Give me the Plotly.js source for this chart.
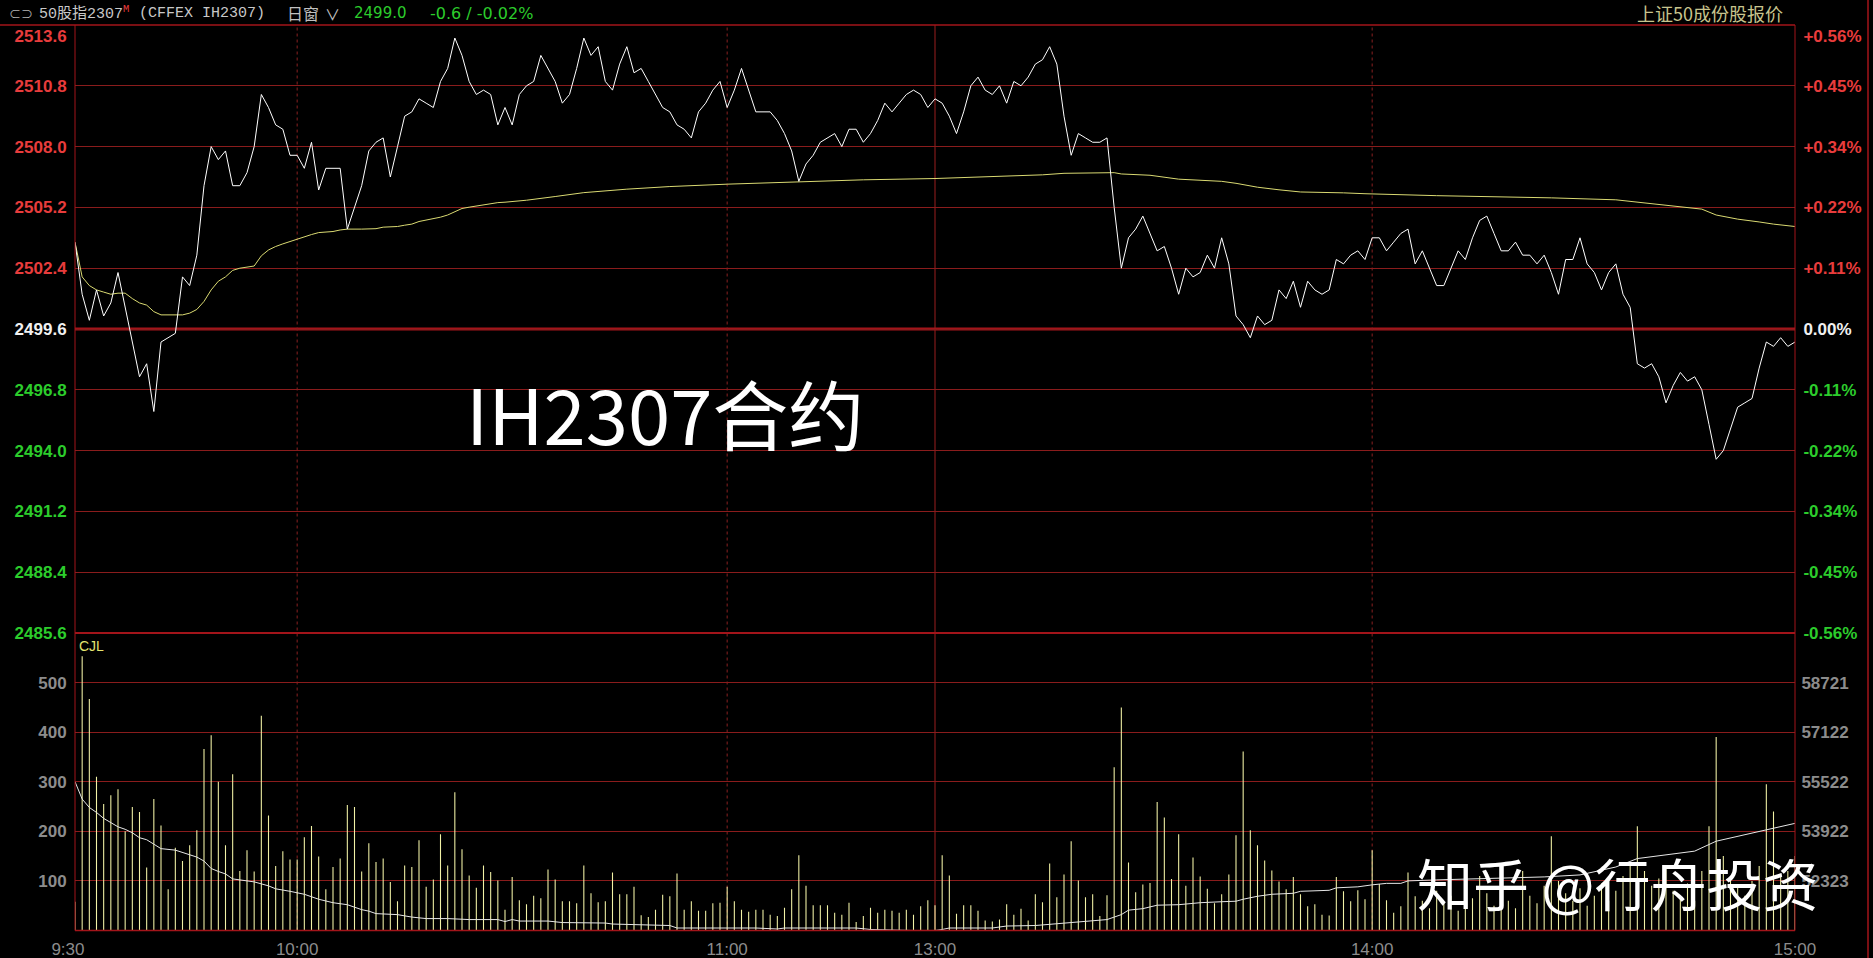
<!DOCTYPE html>
<html>
<head>
<meta charset="utf-8">
<script src="https://cdn.plot.ly/plotly-3.0.1.min.js"></script>
<style>
  html, body { margin: 0; padding: 0; background: #000; }
  #chart { width: 1873px; height: 958px; }
</style>
</head>
<body>
<div id="chart"></div>
<script>
// ---------------- DATA ----------------
const PRE_CLOSE = 2499.6;

// minute-by-minute last price (index 0 = 9:30 ... 240 = 15:00)
const PRICE = [
  2503.6, 2501.2, 2500.0, 2501.4, 2500.2, 2500.8, 2502.2, 2500.6, 2499.0, 2497.4,
  2498.0, 2495.8, 2499.0, 2499.2, 2499.4, 2502.0, 2501.6, 2503.0, 2506.2, 2508.0,
  2507.4, 2507.8, 2506.2, 2506.2, 2506.8, 2508.0, 2510.4, 2509.8, 2509.0, 2508.8,
  2507.6, 2507.6, 2507.0, 2508.2, 2506.0, 2507.0, 2507.0, 2507.0, 2504.2, 2505.2,
  2506.2, 2507.8, 2508.2, 2508.4, 2506.6, 2508.0, 2509.4, 2509.6, 2510.2, 2510.0,
  2509.8, 2511.0, 2511.6, 2513.0, 2512.2, 2511.0, 2510.4, 2510.6, 2510.4, 2509.0,
  2509.8, 2509.0, 2510.4, 2510.8, 2511.0, 2512.2, 2511.6, 2511.0, 2510.0, 2510.4,
  2511.6, 2513.0, 2512.2, 2512.6, 2511.0, 2510.6, 2511.8, 2512.6, 2511.4, 2511.6,
  2511.0, 2510.4, 2509.8, 2509.6, 2509.0, 2508.8, 2508.4, 2509.6, 2510.0, 2510.6,
  2511.0, 2509.8, 2510.6, 2511.6, 2510.6, 2509.6, 2509.6, 2509.6, 2509.2, 2508.6,
  2507.8, 2506.4, 2507.2, 2507.6, 2508.2, 2508.4, 2508.6, 2508.0, 2508.8, 2508.8,
  2508.2, 2508.6, 2509.2, 2510.0, 2509.6, 2510.0, 2510.4, 2510.6, 2510.4, 2509.8,
  2510.2, 2510.0, 2509.4, 2508.6, 2509.6, 2510.8, 2511.2, 2510.6, 2510.4, 2510.8,
  2510.0, 2511.0, 2510.8, 2511.2, 2511.8, 2512.0, 2512.6, 2511.8, 2509.4, 2507.6,
  2508.6, 2508.4, 2508.2, 2508.2, 2508.4, 2505.2, 2502.4, 2503.8, 2504.2, 2504.8,
  2504.0, 2503.2, 2503.4, 2502.4, 2501.2, 2502.4, 2502.0, 2502.2, 2503.0, 2502.4,
  2503.8, 2502.6, 2500.2, 2499.8, 2499.2, 2500.2, 2499.8, 2500.0, 2501.4, 2501.0,
  2501.8, 2500.6, 2501.8, 2501.4, 2501.2, 2501.4, 2502.8, 2502.6, 2503.0, 2503.2,
  2502.8, 2503.8, 2503.8, 2503.2, 2503.6, 2504.0, 2504.2, 2502.6, 2503.2, 2502.4,
  2501.6, 2501.6, 2502.4, 2503.2, 2502.8, 2503.8, 2504.6, 2504.8, 2504.0, 2503.2,
  2503.2, 2503.6, 2503.0, 2503.0, 2502.6, 2503.0, 2502.2, 2501.2, 2502.8, 2502.8,
  2503.8, 2502.6, 2502.2, 2501.4, 2502.2, 2502.6, 2501.2, 2500.6, 2498.0, 2497.8,
  2498.0, 2497.4, 2496.2, 2497.0, 2497.6, 2497.2, 2497.4, 2496.8, 2495.2, 2493.6,
  2494.0, 2495.0, 2496.0, 2496.2, 2496.4, 2497.8, 2499.0, 2498.8, 2499.2, 2498.8,
  2499.0
];

// per-minute volume (CJL)
const VOLUME = [
  58, 553, 467, 310, 255, 273, 285, 200, 249, 239,
  127, 265, 212, 83, 167, 140, 172, 202, 366, 394,
  300, 172, 315, 120, 162, 119, 433, 232, 130, 160,
  143, 143, 188, 211, 149, 83, 128, 145, 253, 249,
  119, 176, 138, 145, 98, 59, 131, 128, 182, 88,
  103, 194, 131, 279, 164, 111, 86, 131, 118, 101,
  42, 108, 61, 53, 70, 65, 123, 103, 59, 59,
  55, 131, 75, 57, 59, 117, 73, 73, 88, 31,
  27, 42, 72, 69, 115, 42, 59, 40, 40, 55,
  56, 88, 59, 42, 38, 42, 42, 32, 29, 46,
  83, 152, 90, 51, 51, 51, 36, 32, 56, 17,
  29, 46, 36, 42, 40, 36, 42, 32, 49, 61,
  51, 152, 111, 34, 51, 51, 40, 20, 18, 22,
  53, 32, 44, 20, 73, 57, 135, 67, 113, 180,
  101, 67, 73, 29, 71, 329, 450, 137, 77, 93,
  96, 259, 228, 104, 194, 90, 147, 109, 84, 55,
  73, 113, 192, 361, 202, 172, 141, 121, 99, 83,
  108, 73, 49, 53, 32, 30, 108, 79, 59, 81,
  63, 162, 94, 61, 36, 49, 117, 69, 60, 45,
  80, 55, 70, 40, 95, 65, 110, 75, 50, 85,
  60, 45, 120, 70, 55, 90, 190, 100, 75, 60,
  85, 50, 70, 95, 60, 80, 110, 130, 210, 120,
  90, 105, 130, 80, 70, 95, 60, 120, 210, 390,
  150, 110, 90, 70, 100, 130, 295, 240, 110, 120,
  150
];

// average price line (minute index, price)
const AVG_IDX = [0,1,2,3,4,5,6,7,8,9,10,11,12,15,16,17,18,19,20,21,22,23,25,26,27,28,29,30,31,32,33,34,36,37,38,40,42,43,45,46,47,48,49,50,51,52,53,54,55,56,57,58,59,60,63,67,71,77,83,91,101,110,120,124,130,135,138,143,145,146,150,154,160,162,165,168,171,177,180,190,198,206,215,218,222,227,229,232,235,237,240];
const AVG_VAL = [2503.6,2502.0,2501.6,2501.4,2501.3,2501.2,2501.25,2501.25,2501.0,2500.8,2500.7,2500.4,2500.25,2500.25,2500.33,2500.5,2500.87,2501.4,2501.8,2502.0,2502.3,2502.4,2502.5,2502.97,2503.24,2503.4,2503.52,2503.63,2503.75,2503.86,2503.95,2504.04,2504.09,2504.16,2504.2,2504.2,2504.22,2504.29,2504.32,2504.38,2504.43,2504.55,2504.62,2504.67,2504.75,2504.85,2504.99,2505.15,2505.21,2505.27,2505.31,2505.39,2505.42,2505.44,2505.53,2505.7,2505.88,2506.04,2506.16,2506.27,2506.39,2506.47,2506.53,2506.57,2506.62,2506.7,2506.77,2506.8,2506.8,2506.74,2506.68,2506.5,2506.4,2506.31,2506.13,2506.01,2505.91,2505.87,2505.83,2505.74,2505.7,2505.64,2505.55,2505.45,2505.3,2505.12,2504.85,2504.66,2504.53,2504.43,2504.32];

// open interest line in volume pane (minute index, contracts)
const OI_IDX = [0,1,2,3,4,5,6,7,8,9,10,11,12,14,15,17,18,19,20,21,22,23,25,27,28,30,32,34,36,38,40,41,42,45,47,49,51,52,55,59,60,61,62,65,66,68,71,74,75,78,80,83,84,86,95,98,99,109,111,117,120,121,122,128,130,134,138,142,144,146,147,149,151,154,157,160,162,163,165,167,170,171,175,176,179,181,183,185,186,190,195,200,205,210,215,218,222,226,229,232,235,238,240];
const OI_VAL = [55524,54964,54692,54532,54340,54212,54068,53988,53876,53716,53652,53508,53364,53316,53236,53092,52964,52724,52628,52548,52388,52356,52292,52164,52068,51988,51892,51732,51620,51556,51396,51348,51268,51236,51156,51108,51124,51108,51076,51076,51012,51076,51028,51012,51028,50980,50964,50964,50932,50916,50884,50884,50804,50804,50804,50772,50804,50804,50756,50724,50724,50756,50804,50804,50868,50884,50964,51028,51076,51236,51380,51428,51540,51556,51620,51652,51668,51732,51828,51892,51924,51988,52020,52100,52132,52196,52244,52244,52324,52356,52388,52420,52452,52516,52772,53044,53156,53284,53604,53764,53924,54084,54180];

// axis ticks / labels
const TIME_TICKS  = [0, 31, 91, 120, 181, 240];
const TIME_LABELS = ['9:30&#160;&#160;&#160;', '10:00', '11:00', '13:00', '14:00', '15:00'];
const LUNCH_BREAK = 120;

const PRICE_TICKS  = [2485.6, 2488.4, 2491.2, 2494.0, 2496.8, 2499.6, 2502.4, 2505.2, 2508.0, 2510.8, 2513.6];
const PRICE_LABELS = ['2485.6','2488.4','2491.2','2494.0','2496.8','2499.6','2502.4','2505.2','2508.0','2510.8','2513.6'];
const PCT_LABELS   = ['-0.56%','-0.45%','-0.34%','-0.22%','-0.11%','0.00%','+0.11%','+0.22%','+0.34%','+0.45%','+0.56%'];

const VOL_RANGE   = [0, 600];
const VOL_TICKS   = [100, 200, 300, 400, 500];
const VOL_LABELS  = ['100', '200', '300', '400', '500'];
const OI_RANGE    = [50723.5, 60320.5];
const OI_TICKS    = [52323, 53922, 55522, 57122, 58721];
const OI_LABELS   = ['52323', '53922', '55522', '57122', '58721'];

// ---------------- STYLE / LAYOUT ----------------
const W = 1873, H = 958;
const px = v => v / W;
const py = v => 1 - v / H;
const X0 = 75, X1 = 1795, YT = 25, YM = 633, YB = 930.5;

const RED = '#e83c3c', GREEN = '#2ccc2c', WHITE = '#f0f0f0', GRAY = '#8c8c8c';
const GRID = '#8a1c1c', THICK = '#a3141a';
const LBL_FONT = 'Liberation Sans, Arial, sans-serif';
const CJK_FONT = 'Noto Sans CJK SC, Noto Sans, sans-serif';
const HDR_FONT = 'Liberation Mono, Noto Sans CJK SC, monospace';
const QUOTE_FONT = 'DejaVu Sans, Verdana, sans-serif';

const MINUTE = PRICE.map((_, i) => i);

function colorOf(v) {
  if (v > PRE_CLOSE + 1e-9) return RED;
  if (v < PRE_CLOSE - 1e-9) return GREEN;
  return WHITE;
}
const topTick = Math.max(...PRICE_TICKS);
function priceText(labels) {
  return PRICE_TICKS.map((v, i) => {
    const t = '<span style="color:' + colorOf(v) + '">' + labels[i] + '</span>';
    return v === topTick ? '&#160;<br>' + t : t;
  });
}

const traces = [
  {
    type: 'bar', x: MINUTE, y: VOLUME, xaxis: 'x', yaxis: 'y3',
    width: 0.15, marker: { color: '#f2f2a6', line: { width: 0 } },
    hoverinfo: 'skip'
  },
  {
    type: 'scatter', mode: 'lines', x: OI_IDX, y: OI_VAL, xaxis: 'x', yaxis: 'y4',
    line: { color: '#e6e6e6', width: 1 }, hoverinfo: 'skip'
  },
  {
    type: 'scatter', mode: 'lines', x: AVG_IDX, y: AVG_VAL, xaxis: 'x', yaxis: 'y',
    line: { color: '#dada72', width: 1 }, hoverinfo: 'skip'
  },
  {
    type: 'scatter', mode: 'lines', x: MINUTE, y: PRICE, xaxis: 'x', yaxis: 'y2',
    line: { color: '#ffffff', width: 1 }, hoverinfo: 'skip'
  }
];

const tickFontBold = { family: LBL_FONT, size: 17, weight: 'bold', color: GRAY };

const shapes = [];
// pre-close reference line
shapes.push({ type: 'line', xref: 'x domain', x0: 0, x1: 1, yref: 'y', y0: PRE_CLOSE, y1: PRE_CLOSE,
  line: { color: THICK, width: 3 }, layer: 'below' });
// session time lines
TIME_TICKS.slice(1, -1).forEach(t => {
  shapes.push({ type: 'line', xref: 'x', x0: t, x1: t, yref: 'paper', y0: py(YB), y1: py(YT),
    line: { color: t === LUNCH_BREAK ? '#9a1e1e' : '#8a2020', width: 1, dash: t === LUNCH_BREAK ? 'solid' : '3px,3px' },
    layer: 'below' });
});
// frame
shapes.push({ type: 'line', xref: 'paper', yref: 'paper', x0: px(X0), x1: px(X1), y0: py(YM), y1: py(YM), line: { color: THICK, width: 2 } });
shapes.push({ type: 'line', xref: 'paper', yref: 'paper', x0: 0, x1: px(X1), y0: py(YT), y1: py(YT), line: { color: THICK, width: 1.5 } });
shapes.push({ type: 'line', xref: 'paper', yref: 'paper', x0: px(X0), x1: px(X0), y0: py(YB), y1: py(YT), line: { color: THICK, width: 1 } });
shapes.push({ type: 'line', xref: 'paper', yref: 'paper', x0: px(X1), x1: px(X1), y0: py(YB), y1: py(YT), line: { color: THICK, width: 1 } });
shapes.push({ type: 'line', xref: 'paper', yref: 'paper', x0: px(X0), x1: px(X1), y0: py(YB), y1: py(YB), line: { color: THICK, width: 1.5 } });
shapes.push({ type: 'line', xref: 'paper', yref: 'paper', x0: px(1868), x1: px(1868), y0: 0, y1: 1, line: { color: THICK, width: 1.5 } });

const last = PRICE[PRICE.length - 1];
const chg = last - PRE_CLOSE;
const chgPct = chg / PRE_CLOSE * 100;
const chgCol = chg > 0 ? RED : (chg < 0 ? GREEN : WHITE);

function ann(text, x, y, size, color, family, extra) {
  return Object.assign({ text: text, xref: 'paper', yref: 'paper', x: px(x), y: py(y),
    xanchor: 'left', yanchor: 'middle', showarrow: false,
    font: { family: family || CJK_FONT, size: size, color: color } }, extra || {});
}

const annotations = [
  ann('⊂⊃', 7, 13, 12, '#b4b4b4'),
  ann('50股指2307<sup><span style="color:' + RED + '">M</span></sup>', 37, 13, 15, '#c8c8c8', HDR_FONT),
  ann('(CFFEX IH2307)', 137, 13, 15, '#c8c8c8', HDR_FONT),
  ann('日窗', 285, 13, 16, '#c0c0c0'),
  ann('∨', 323, 14, 15, '#c0c0c0'),
  ann(last.toFixed(1), 352, 13, 15, chgCol, QUOTE_FONT),
  ann(chg.toFixed(1) + ' / ' + chgPct.toFixed(2) + '%', 428, 13, 16, chgCol, QUOTE_FONT),
  ann('上证50成份股报价', 1785, 13, 18, '#c8c48e', CJK_FONT, { xanchor: 'right' }),
  ann('CJL', 77, 646, 14, '#e4e470', LBL_FONT),
  ann('IH2307合约', 665, 412, 76, '#ffffff', CJK_FONT, { xanchor: 'center' }),
  ann('知乎 @行舟投资', 1618, 881, 56, '#ffffff', CJK_FONT, { xanchor: 'center' })
];

const layout = {
  width: W, height: H,
  margin: { l: 0, r: 0, t: 0, b: 0, pad: 0 },
  paper_bgcolor: '#000', plot_bgcolor: '#000',
  showlegend: false, hovermode: false, dragmode: false,
  xaxis: {
    domain: [px(X0), px(X1)], range: [0, 240], anchor: 'y3',
    tickmode: 'array', tickvals: TIME_TICKS, ticktext: TIME_LABELS,
    showgrid: false, zeroline: false, showline: false,
    ticks: 'outside', ticklen: 3, tickcolor: 'rgba(0,0,0,0)',
    tickfont: { family: LBL_FONT, size: 17, color: GRAY }, fixedrange: true
  },
  yaxis: {
    domain: [py(YM), py(YT)], range: [PRICE_TICKS[0], topTick], anchor: 'x',
    tickmode: 'array', tickvals: PRICE_TICKS, ticktext: priceText(PRICE_LABELS),
    showgrid: true, gridcolor: GRID, gridwidth: 1, zeroline: false, showline: false,
    ticks: 'outside', ticklen: 4, tickcolor: 'rgba(0,0,0,0)',
    tickfont: tickFontBold, fixedrange: true
  },
  yaxis2: {
    overlaying: 'y', side: 'right', anchor: 'x', range: [PRICE_TICKS[0], topTick],
    tickmode: 'array', tickvals: PRICE_TICKS, ticktext: priceText(PCT_LABELS),
    showgrid: false, zeroline: false, showline: false,
    ticks: 'outside', ticklen: 4, tickcolor: 'rgba(0,0,0,0)',
    tickfont: tickFontBold, fixedrange: true
  },
  yaxis3: {
    domain: [py(YB), py(YM)], range: VOL_RANGE, anchor: 'x',
    tickmode: 'array', tickvals: VOL_TICKS, ticktext: VOL_LABELS,
    showgrid: true, gridcolor: GRID, gridwidth: 1, zeroline: false, showline: false,
    ticks: 'outside', ticklen: 4, tickcolor: 'rgba(0,0,0,0)',
    tickfont: tickFontBold, fixedrange: true
  },
  yaxis4: {
    overlaying: 'y3', side: 'right', anchor: 'x', range: OI_RANGE,
    tickmode: 'array', tickvals: OI_TICKS, ticktext: OI_LABELS,
    showgrid: false, zeroline: false, showline: false,
    ticks: 'outside', ticklen: 2, tickcolor: 'rgba(0,0,0,0)',
    tickfont: tickFontBold, fixedrange: true
  },
  shapes: shapes,
  annotations: annotations
};

Plotly.newPlot('chart', traces, layout, { displayModeBar: false, staticPlot: true });
</script>
</body>
</html>
